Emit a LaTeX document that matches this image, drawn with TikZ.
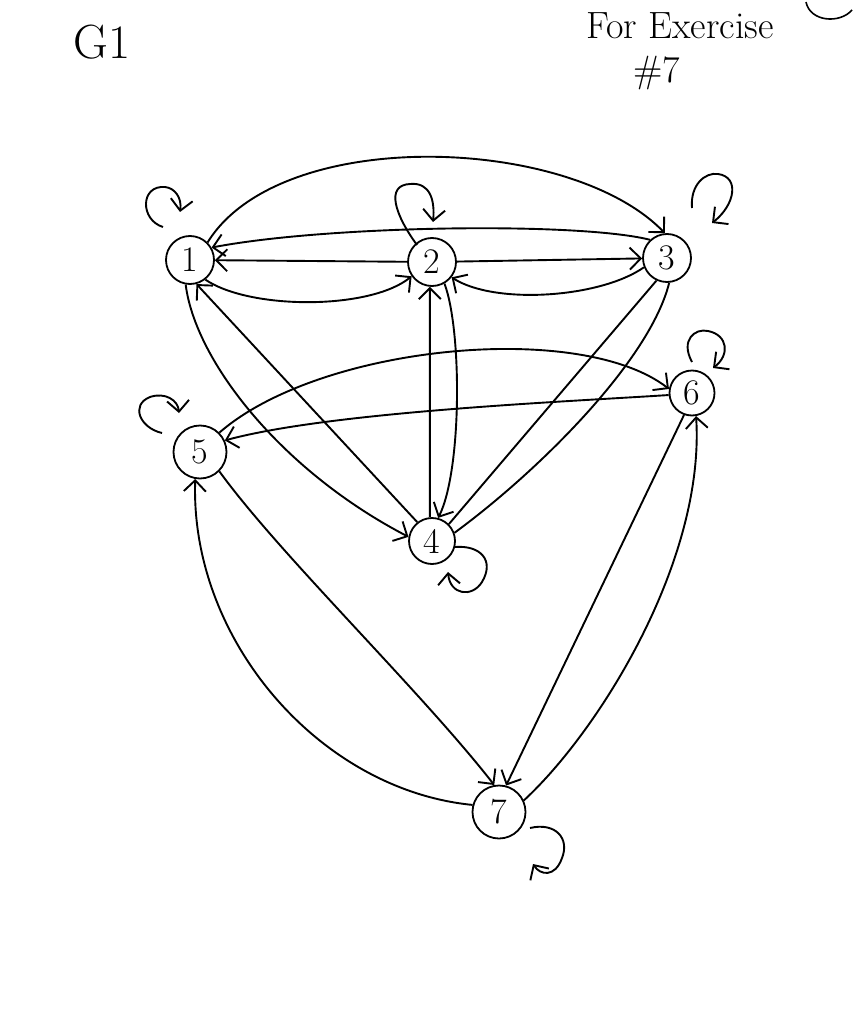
\documentclass[tikz,border=0pt]{standalone}
\usetikzlibrary{arrows.meta,calc}
\begin{document}
\begin{tikzpicture}[x=1pt,y=-1pt,
  line width=1.9pt,
  >={Straight Barb[length=11pt,width=22pt,line width=1.9pt]},
  vtx/.style={circle,draw,line width=1.8pt,minimum size=48pt,inner sep=0pt,font=\fontsize{36}{36}\selectfont},
  edge/.style={->},
  plain/.style={-},
  selfloop/.style={->},
  title/.style={font=\fontsize{38}{40}\selectfont}]
\useasboundingbox (0,0) rectangle (858,1024);
% nodes
\node[vtx] (n1) at (190,260) {1};
\node[vtx] (n2) at (432,262) {2};
\node[vtx] (n3) at (667,258) {3};
\node[vtx,minimum size=46pt] (n4) at (432,541) {4};
\node[vtx,minimum size=53pt] (n5) at (200,452) {5};
\node[vtx,minimum size=45pt] (n6) at (692,393) {6};
\node[vtx,minimum size=53pt] (n7) at (499,812) {7};
% titles
\node[title,font=\fontsize{48}{48}\selectfont] (g1) at (102,42) {G1};
\node[title] (ex) at (680,26) {For Exercise};
\node[title] (num) at (657,73) {\#7};
\draw[line width=1.6pt] (806,2) .. controls (810,22) and (840,24) .. (852,10);
% edges among 1,2,3
\draw[edge] (n1.45) .. controls (280,125) and (570,135) .. (n3.95);
\draw[edge] (n3.133) .. controls (580,222) and (330,225) .. (n1.30);
\draw[edge] (n2) -- (n1);
\draw[edge] (n1.-52) .. controls (250,310) and (370,310) .. (n2.215);
\draw[edge] (n2) -- (n3);
\draw[edge] (n3.202) .. controls (600,298) and (495,305) .. (n2.-38);
% edges with 4
\draw[edge] (n4.95) -- (n2.265);
\draw[edge] (n2.-60) .. controls (462,330) and (462,470) .. (n4.75);
\draw[edge] (n4.128) -- (n1.-75);
\draw[edge] (n1.-100) .. controls (195,360) and (280,470) .. (n4.170);
\draw[plain] (n3.245) -- (n4.45);
\draw[plain] (n3.-85) .. controls (650,360) and (540,470) .. (n4.20);
% edges among 5,6,7
\draw[edge] (n5.45) .. controls (320,345) and (580,320) .. (n6.170);
\draw[edge] (n6.185) .. controls (560,402) and (330,412) .. (n5.25);
\draw[edge] (n5.-45) .. controls (280,555) and (420,690) .. (n7.100);
\draw[edge] (n7.165) .. controls (320,790) and (190,640) .. (n5.-100);
\draw[edge] (n6.250) -- (n7.75);
\draw[edge] (n7.25) .. controls (600,730) and (705,560) .. (n6.-80);
% self loops
\begin{scope}[shift={(n1.center)}]
\draw[selfloop] (-27,-33) .. controls (-50,-40) and (-50,-75) .. (-25,-73) .. controls (-15,-72) and (-8,-62) .. (-10,-48);
\end{scope}
\begin{scope}[shift={(n2.center)}]
\draw[selfloop] (-15,-17) .. controls (-37,-47) and (-47,-77) .. (-22,-78) .. controls (-2,-80) and (3,-62) .. (1,-40);
\end{scope}
\begin{scope}[shift={(n3.center)}]
\draw[selfloop] (25,-50) .. controls (23,-73) and (38,-86) .. (51,-84) .. controls (73,-81) and (68,-53) .. (45,-35);
\end{scope}
\begin{scope}[shift={(n4.center)}]
\draw[selfloop] (23,6) .. controls (48,4) and (63,19) .. (50,41) .. controls (40,57) and (18,54) .. (16,31);
\end{scope}
\begin{scope}[shift={(n5.center)}]
\draw[selfloop] (-38,-19) .. controls (-60,-24) and (-70,-47) .. (-50,-55) .. controls (-35,-60) and (-22,-52) .. (-21,-39);
\end{scope}
\begin{scope}[shift={(n6.center)}]
\draw[selfloop] (0,-31) .. controls (-12,-53) and (3,-65) .. (16,-62) .. controls (36,-58) and (38,-38) .. (21,-25);
\end{scope}
\begin{scope}[shift={(n7.center)}]
\draw[selfloop] (31,16) .. controls (56,10) and (71,26) .. (63,46) .. controls (56,66) and (41,63) .. (34,52);
\end{scope}
\end{tikzpicture}
\end{document}
